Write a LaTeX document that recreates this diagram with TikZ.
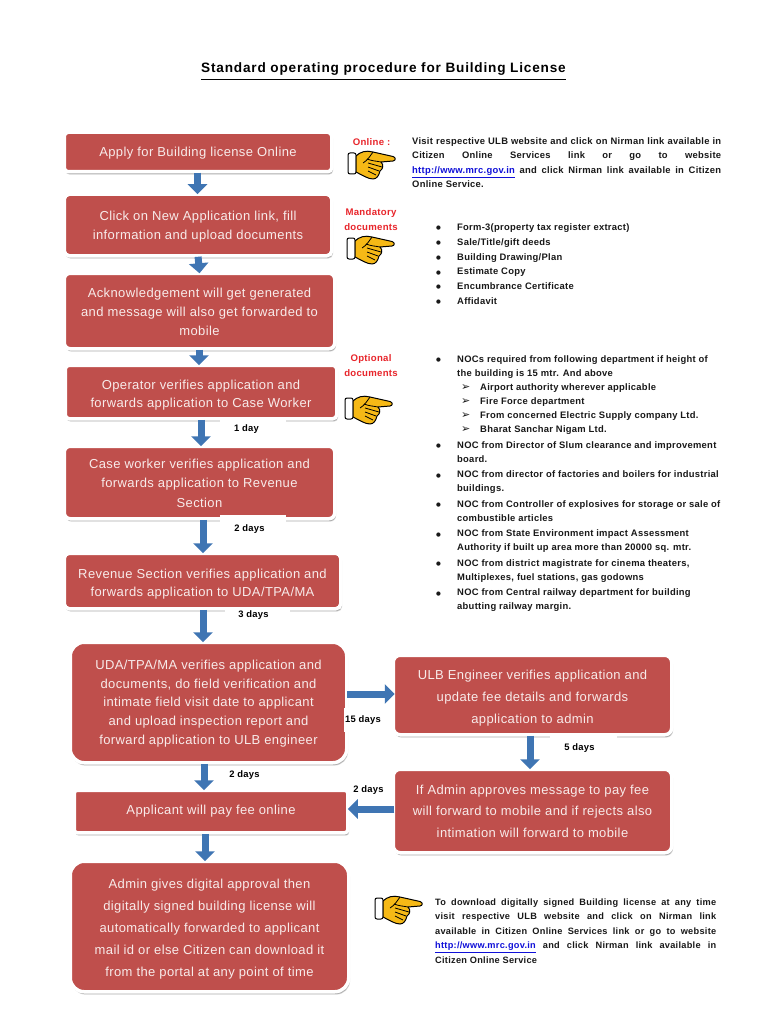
\documentclass[tikz,border=0pt]{standalone}
\usepackage{fontspec}
\usetikzlibrary{arrows.meta,shadows}
\setmainfont{Liberation Sans}
\newfontfamily\boxfont[LetterSpace=3]{Liberation Sans}
\newfontfamily\sidefont[LetterSpace=3]{Liberation Sans}
\newfontfamily\titlefont[LetterSpace=6]{Liberation Sans}
\newfontfamily\symbfont{DejaVu Sans}
\definecolor{boxred}{HTML}{BF4F4C}
\definecolor{boxtext}{HTML}{F8EBEA}
\definecolor{arrowblue}{HTML}{3F75B3}
\definecolor{labelred}{HTML}{E8252B}
\definecolor{linkblue}{HTML}{1010D8}
\definecolor{handyellow}{HTML}{F6B916}
\newcommand{\jl}[2][309pt]{\makebox[#1][s]{#2}}
\newcommand{\bl}[1]{\makebox[21pt][l]{\symbfont\fontsize{5.5}{5.5}\selectfont\raisebox{.8pt}{●}}#1}
\newcommand{\cl}[1]{\hspace*{21pt}#1}
\newcommand{\subl}[1]{\hspace*{25pt}\makebox[19pt][l]{\symbfont\fontsize{11}{8}\selectfont ➢}#1}
\newcommand{\weblink}{\textcolor{linkblue}{\underline{http://www.mrc.gov.in}}}
\newcommand{\dn}[1]{\rule{0pt}{#1pt}}
\tikzset{
  flowbox/.style={draw=white,line width=3.5pt,fill=boxred,text=boxtext,align=center,outer sep=0pt,inner sep=0pt,
    font=\boxfont\fontsize{13}{18.7}\selectfont,
    drop shadow={shadow xshift=1.4pt,shadow yshift=-2.9pt,opacity=.14,fill=black},
    drop shadow={shadow xshift=1pt,shadow yshift=-2.4pt,opacity=.22,fill=black}},
  arr/.style={draw=arrowblue,line width=7pt,shorten <=1pt,shorten >=0pt,-{Triangle[length=10pt,width=19pt]}},
  dayslabel/.style={inner sep=0pt,font=\sidefont\bfseries\fontsize{9.4}{9.4}\selectfont,text=black},
  redlabel/.style={text=labelred,align=center,inner sep=0pt,font=\sidefont\bfseries\fontsize{9.6}{14.4}\selectfont},
  sidetext/.style={anchor=north west,align=left,inner sep=0pt,text=black!90,font=\sidefont\bfseries\fontsize{9.4}{14.4}\selectfont},
  pics/handicon/.style={code={
    \draw[line width=1pt,fill=white,rounded corners=2pt] (0,3) rectangle (8,24);
    \draw[line width=1pt,fill=handyellow,line join=round]
      (8,6) .. controls (12,2) and (18,0) .. (25,2) -- (45,6.5)
      .. controls (48,7.5) and (48,10.5) .. (45,11) -- (33,12)
      .. controls (36,15) and (35,19) .. (32,21) .. controls (31,25) and (29,29) .. (25,29)
      .. controls (20,29) and (14,25) .. (8,22) -- cycle;
    \draw[line width=.8pt] (25,2) .. controls (22,6) and (20,10) .. (15,13);
    \draw[line width=.8pt] (19,9) .. controls (24,11) and (28,11) .. (33,12);
    \draw[line width=.8pt] (20,13) -- (34,17);
    \draw[line width=.8pt] (20,17) -- (31,21);
    \draw[line width=.8pt] (20,21) -- (28,25);
  }},
}
\begin{document}
\begin{tikzpicture}[x=1pt,y=-1pt]
\useasboundingbox[fill=white] (0,0) rectangle (768,1024);

\node[inner sep=0pt,inner ysep=3pt,font=\titlefont\bfseries\fontsize{13.6}{14}\selectfont] (title) at (383.5,69.5) {Standard operating procedure for Building License};
\draw[line width=1pt] (title.south west) -- (title.south east);

\node[flowbox,rounded corners=4pt,minimum width=267.5pt,minimum height=39.5pt] (apply) at (198,152) {\dn{11.5}Apply for Building license Online};
\node[flowbox,rounded corners=5pt,minimum width=267.5pt,minimum height=61.5pt] (newapp) at (198,225) {\dn{12.5}Click on New Application link, fill\\information and upload documents};
\node[flowbox,rounded corners=6pt,minimum width=270.5pt,minimum height=75.5pt] (ack) at (199.5,311) {\dn{11.5}Acknowledgement will get generated\\and message will also get forwarded to\\mobile};
\node[flowbox,rounded corners=4pt,minimum width=271.5pt,minimum height=53.5pt] (operator) at (201,392) {\dn{15.5}Operator verifies application and\\forwards application to Case Worker};
\node[flowbox,rounded corners=6pt,minimum width=270.5pt,minimum height=72.5pt] (caseworker) at (199.5,482.5) {\dn{11.5}Case worker verifies application and\\forwards application to Revenue\\[2pt]Section};
\node[flowbox,rounded corners=5pt,minimum width=276.5pt,minimum height=55.5pt] (revenue) at (202.5,581) {\dn{15.5}Revenue Section verifies application and\\forwards application to UDA/TPA/MA};
\node[flowbox,rounded corners=14pt,minimum width=276.5pt,minimum height=120.5pt] (uda) at (208.5,702.5) {\dn{11.5}UDA/TPA/MA verifies application and\\documents, do field verification and\\intimate field visit date to applicant\\and upload inspection report and\\forward application to ULB engineer};
\node[flowbox,rounded corners=3pt,minimum width=273.5pt,minimum height=42.5pt] (applicant) at (211,811.5) {Applicant will pay fee online\rule[-4pt]{0pt}{0pt}};
\node[flowbox,rounded corners=14pt,minimum width=278.5pt,minimum height=130.5pt,font=\boxfont\fontsize{13}{21.8}\selectfont] (admin) at (209.5,926.5) {\dn{14.5}Admin gives digital approval then\\digitally signed building license will\\automatically forwarded to applicant\\mail id or else Citizen can download it\\from the portal at any point of time};
\node[flowbox,rounded corners=7pt,minimum width=278.5pt,minimum height=79.5pt,font=\boxfont\fontsize{13}{21.8}\selectfont] (ulb) at (532.5,695) {\dn{15.5}ULB Engineer verifies application and\\update fee details and forwards\\application to admin};
\node[flowbox,rounded corners=7pt,minimum width=278.5pt,minimum height=83.5pt,font=\boxfont\fontsize{13}{21.4}\selectfont] (approve) at (532.5,811) {If Admin approves message to pay fee\\will forward to mobile and if rejects also\\intimation will forward to mobile};

\fill[white] (220,417) rectangle (286,424);
\fill[white] (220,514.5) rectangle (286,523);
\fill[white] (225,608) rectangle (290,614);
\fill[white] (550,735) rectangle (617,741);
\fill[white] (344,708) rectangle (350,732);

\draw[arr] ([xshift=-.5pt]apply.south) -- ([xshift=-.5pt]newapp.north);
\draw[arr] (newapp.south) -- (ack.north);
\draw[arr] ([xshift=-.5pt]ack.south) -- ([xshift=-2pt]operator.north);
\draw[arr] (operator.south) -- ([xshift=1.5pt]caseworker.north);
\draw[arr] ([xshift=3.5pt]caseworker.south) -- ([xshift=.5pt]revenue.north);
\draw[arr] ([xshift=.5pt]revenue.south) -- ([xshift=-5.5pt]uda.north);
\draw[arr] ([xshift=-4.5pt]uda.south) -- ([xshift=-7pt]applicant.north);
\draw[arr] ([xshift=-6pt]applicant.south) -- ([xshift=-4.5pt]admin.north);
\draw[arr] ([xshift=-2.5pt]ulb.south) -- ([xshift=-2.5pt]approve.north);
\draw[arr,shorten <=0pt,shorten >=-1.5pt] ([yshift=8.5pt]uda.east) -- ([yshift=1pt]ulb.west);
\draw[arr,shorten <=-1pt,shorten >=0pt] ([yshift=2pt]approve.west) -- ([yshift=2.5pt]applicant.east);

\node[dayslabel] (d1) at (246.5,429) {1 day};
\node[dayslabel] (d2) at (249.5,529) {2 days};
\node[dayslabel] (d3) at (253.5,615) {3 days};
\node[dayslabel] (d15) at (363,720) {15 days};
\node[dayslabel] (d5) at (579.5,748) {5 days};
\node[dayslabel] (d2b) at (244.5,775) {2 days};
\node[dayslabel] (d2c) at (368.5,790) {2 days};

\node[redlabel] (online) at (371.5,142) {Online :};
\node[redlabel] (mand) at (371,219.5) {Mandatory\\documents};
\node[redlabel] (opt) at (371,365.5) {Optional\\documents};

\pic at (348,150) {handicon};
\pic at (347,235) {handicon};
\pic at (345,395) {handicon};
\pic at (375,895) {handicon};

\node[sidetext] (para1) at (412,137.5) {\jl{Visit respective ULB website and click on Nirman link available in}\\
\jl{Citizen Online Services link or go to website}\\
\jl{\weblink{} and click Nirman link available in Citizen}\\
Online Service.};

\node[sidetext,font=\sidefont\bfseries\fontsize{9.4}{14.8}\selectfont] (mandlist) at (436,223.5) {\bl{Form-3(property tax register extract)}\\
\bl{Sale/Title/gift deeds}\\
\bl{Building Drawing/Plan}\\
\bl{Estimate Copy}\\
\bl{Encumbrance Certificate}\\
\bl{Affidavit}};

\node[sidetext,font=\sidefont\bfseries\fontsize{9.4}{13.7}\selectfont] (optlist) at (436,355.5) {\bl{NOCs required from following department if height of}\\[.3pt]
\cl{the building is 15 mtr. And above}\\[.3pt]
\subl{Airport authority wherever applicable}\\[.3pt]
\subl{Fire Force department}\\[.3pt]
\subl{From concerned Electric Supply company Ltd.}\\[.3pt]
\subl{Bharat Sanchar Nigam Ltd.}\\[2.1pt]
\bl{NOC from Director of Slum clearance and improvement}\\
\cl{board.}\\[2.1pt]
\bl{NOC from director of factories and boilers for industrial}\\
\cl{buildings.}\\[2.1pt]
\bl{NOC from Controller of explosives for storage or sale of}\\
\cl{combustible articles}\\[2.1pt]
\bl{NOC from State Environment impact Assessment}\\
\cl{Authority if built up area more than 20000 sq. mtr.}\\[2.1pt]
\bl{NOC from district magistrate for cinema theaters,}\\
\cl{Multiplexes, fuel stations, gas godowns}\\[2.1pt]
\bl{NOC from Central railway department for building}\\
\cl{abutting railway margin.}};

\node[sidetext,font=\sidefont\bfseries\fontsize{9.2}{14.5}\selectfont] (para2) at (435,898.5) {\jl[281pt]{To download digitally signed Building license at any time}\\
\jl[281pt]{visit respective ULB website and click on Nirman link}\\
\jl[281pt]{available in Citizen Online Services link or go to website}\\
\jl[281pt]{\weblink{} and click Nirman link available in}\\
Citizen Online Service};
\end{tikzpicture}
\end{document}
